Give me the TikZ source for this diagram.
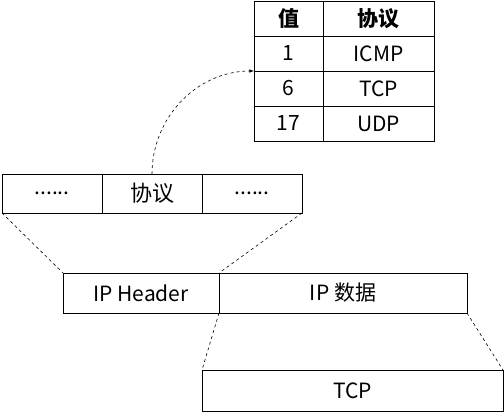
\documentclass[tikz,border=0pt]{standalone}
\usepackage{fontspec}
\setmainfont{Noto Sans CJK SC}
\usetikzlibrary{positioning}
\begin{document}
\begin{tikzpicture}[x=1pt, y=-1pt, line width=0.8pt,
      cell/.style = {draw, rectangle, inner sep=0pt, outer sep=0pt,
        font=\fontsize{21}{21}\selectfont},
      row/.style = {cell, minimum height=35pt},
      link/.style = {dashed, line width=0.6pt},
      arrow/.style = {-latex}]
    \useasboundingbox (0,0) rectangle (504,412);

    % protocol table
    \node[row, minimum width=69pt, anchor=north west, font=\fontsize{21}{21}\selectfont\bfseries] (vh) at (254,1) {值};
    \node[row, minimum width=111pt, right=0pt of vh, font=\fontsize{21}{21}\selectfont\bfseries] (ph) {协议};
    \node[row, minimum width=69pt, below=0pt of vh] (v1) {1};
    \node[row, minimum width=111pt, right=0pt of v1] (p1) {ICMP};
    \node[row, minimum width=69pt, below=0pt of v1] (v6) {6};
    \node[row, minimum width=111pt, right=0pt of v6] (p6) {TCP};
    \node[row, minimum width=69pt, below=0pt of v6] (v17) {17};
    \node[row, minimum width=111pt, right=0pt of v17] (p17) {UDP};

    % header fields
    \node[cell, minimum width=100pt, minimum height=39pt, anchor=north west] (f1) at (2,174) {......};
    \node[cell, minimum width=100pt, minimum height=39pt, right=0pt of f1, font=\fontsize{22}{22}\selectfont] (f2) {协议};
    \node[cell, minimum width=100pt, minimum height=39pt, right=0pt of f2] (f3) {......};

    % IP packet
    \node[cell, minimum width=156pt, minimum height=40pt, anchor=north west] (hdr) at (63,273) {IP Header};
    \node[cell, minimum width=248pt, minimum height=40pt, right=0pt of hdr] (data) {IP 数据};

    % TCP segment
    \node[cell, minimum width=301pt, minimum height=41pt, anchor=north west] (tcp) at (202,370) {TCP};

    % zoom lines
    \draw[link] (f1.south west) -- (hdr.north west);
    \draw[link] (f3.south east) -- (hdr.north east);
    \draw[link] (data.south west) -- (tcp.north west);
    \draw[link] (data.south east) -- (tcp.north east);

    % lookup
    \draw[link, arrow] (f2.north) to[out=90, in=180] (v6.north west);
  \end{tikzpicture}
\end{document}
